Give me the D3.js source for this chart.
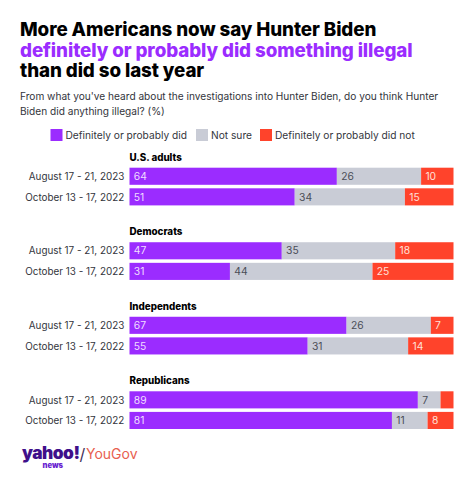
<!DOCTYPE html>
<html>
<head>
<meta charset="utf-8">
<script src="https://cdn.jsdelivr.net/npm/d3@7"></script>
<style>
html, body { margin: 0; padding: 0; background: #fff; }
svg { display: block; }
text { font-family: Inter, "Noto Sans", sans-serif; }
</style>
</head>
<body>
<svg id="chart" width="474" height="477"></svg>
<script>
var groups = ['U.S. adults', 'Democrats', 'Independents', 'Republicans'];
var waves = ['August 17 - 21, 2023', 'October 13 - 17, 2022'];
var answers = ['Definitely or probably did', 'Not sure', 'Definitely or probably did not'];
var colors = ['#9b2cff', '#c9ccd6', '#ff432b'];
var labelColors = ['#f0dcff', '#4a4d57', '#ffe0d8'];

// one entry per group, first wave then second wave
var didValues = [[64, 51], [47, 31], [67, 55], [89, 81]];
var unsureValues = [[26, 34], [35, 44], [26, 31], [7, 11]];
var didNotValues = [[10, 15], [18, 25], [7, 14], [4, 8]];

var titleLines = [
    {text: 'More Americans now say Hunter Biden', color: '#000'},
    {text: 'definitely or probably did something illegal', color: '#9b2cff'},
    {text: 'than did so last year', color: '#000'}
];
var subtitleLines = [
    'From what you\'ve heard about the investigations into Hunter Biden, do you think Hunter',
    'Biden did anything illegal? (%)'
];
var legendX = [50.5, 196, 260];

var svg = d3.select('#chart');

var x = d3.scaleLinear().domain([0, 100]).range([129.5, 453.5]);
var groupY = d3.scalePoint().domain(groups).range([167.7, 391.3]);
var waveY = d3.scaleBand().domain(waves).range([0, 37.7]).paddingInner(0.17);

svg.append('text')
    .attr('font-size', 18.8)
    .attr('font-weight', 800)
    .attr('letter-spacing', -0.1)
    .selectAll('tspan')
    .data(titleLines)
    .enter()
    .append('tspan')
    .attr('x', 20)
    .attr('y', function(d, i) { return 36 + i * 20.7; })
    .attr('fill', function(d) { return d.color; })
    .text(function(d) { return d.text; });

svg.append('g').selectAll('text')
    .data(subtitleLines)
    .enter()
    .append('text')
    .attr('x', 20)
    .attr('y', function(d, i) { return 100.3 + i * 15; })
    .attr('font-size', 10.15)
    .attr('fill', '#33353c')
    .text(function(d) { return d; });

var legend = svg.append('g').selectAll('g')
    .data(answers)
    .enter()
    .append('g')
    .attr('transform', function(d, i) { return 'translate(' + legendX[i] + ',129)'; });

legend.append('rect')
    .attr('width', 12)
    .attr('height', 12)
    .attr('fill', function(d, i) { return colors[i]; });

legend.append('text')
    .attr('x', 15)
    .attr('y', 10)
    .attr('font-size', 10.2)
    .attr('fill', '#33353c')
    .text(function(d) { return d; });

var stack = d3.stack().keys([0, 1, 2]);

groups.forEach(function(group, g) {
    var rows = waves.map(function(w, i) {
        return [didValues[g][i], unsureValues[g][i], didNotValues[g][i]];
    });
    var top = groupY(group);
    var groupEl = svg.append('g').attr('transform', 'translate(0,' + top + ')');

    groupEl.append('text')
        .attr('x', 129.5)
        .attr('y', -7)
        .attr('font-size', 9.8)
        .attr('font-weight', 800)
        .attr('fill', '#000')
        .text(group);

    groupEl.selectAll('text.wave')
        .data(waves)
        .enter()
        .append('text')
        .attr('class', 'wave')
        .attr('x', 124.3)
        .attr('y', function(d) { return waveY(d) + waveY.bandwidth() / 2 + 3.7; })
        .attr('text-anchor', 'end')
        .attr('font-size', 9.9)
        .attr('fill', '#33353c')
        .text(function(d) { return d; });

    stack(rows).forEach(function(layer, a) {
        layer.forEach(function(seg, i) {
            var y = waveY(waves[i]);
            groupEl.append('rect')
                .attr('x', x(seg[0]))
                .attr('y', y)
                .attr('width', x(seg[1]) - x(seg[0]))
                .attr('height', waveY.bandwidth())
                .attr('fill', colors[a]);

            // the smallest slice has no label in the original
            var value = seg[1] - seg[0];
            if (value >= 5) {
                groupEl.append('text')
                    .attr('x', x(seg[0]) + 4.3)
                    .attr('y', y + waveY.bandwidth() / 2 + 3.7)
                    .attr('font-size', 10.3)
                    .attr('fill', labelColors[a])
                    .text(value);
            }
        });
    });
});

// logos, set as text
var logo = svg.append('g');
var yahooMark = logo.append('text')
    .attr('font-weight', 900);
yahooMark.append('tspan')
    .attr('x', 22)
    .attr('y', 458.5)
    .attr('font-size', 17.3)
    .attr('letter-spacing', -0.5)
    .attr('fill', '#40108a')
    .text('yahoo!');
yahooMark.append('tspan')
    .attr('x', 42.5)
    .attr('y', 467.5)
    .attr('font-size', 7.6)
    .attr('letter-spacing', 0)
    .attr('fill', '#6a1fd0')
    .text('news');
logo.append('text')
    .attr('x', 79.5)
    .attr('y', 459.5)
    .attr('font-size', 16)
    .attr('fill', '#40305a')
    .text('/');
logo.append('text')
    .attr('x', 86)
    .attr('y', 459)
    .attr('font-size', 14)
    .attr('fill', '#e8604f')
    .text('YouGov');
</script>
</body>
</html>
